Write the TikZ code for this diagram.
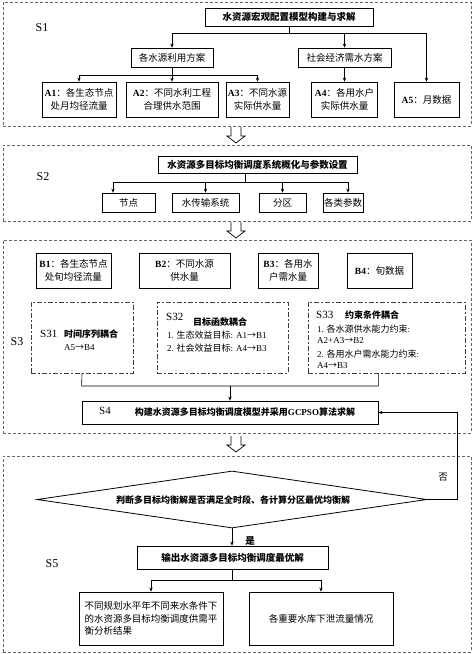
\documentclass[tikz,border=0pt]{standalone}
\usepackage{fontspec}
\setmainfont{Liberation Serif}
\newfontfamily\zhfont{Noto Sans CJK SC}
\usetikzlibrary{arrows.meta,shapes.geometric,calc}
\newcommand\lat[1]{{\rmfamily #1}}
\tikzset{
 frame/.style={draw=black!60, dash pattern=on 3pt off 2pt, line width=0.8pt, inner sep=0pt},
 box/.style={draw, line width=0.8pt, align=center, inner sep=1pt, font=\zhfont\fontsize{9.5}{13}\selectfont},
 subframe/.style={draw=black!75, line width=0.8pt, dash pattern=on 5pt off 2pt on 2pt off 2pt, inner sep=0pt},
 arr/.style={-{Stealth[length=4pt,width=3.4pt]}, line width=0.6pt},
 ln/.style={line width=0.6pt},
 slab/.style={font=\fontsize{12}{12}\selectfont, inner sep=0pt},
 txt/.style={font=\zhfont\fontsize{9}{11}\selectfont, inner sep=0pt, anchor=west},
 hollowarrow/.pic={\draw[line width=0.7pt, fill=white] (-5,0) -- (-5,9) -- (-9,9) -- (0,16) -- (9,9) -- (5,9) -- (5,0);},
}
\begin{document}
\begin{tikzpicture}[x=1pt,y=-1pt]
\useasboundingbox (0,0) rectangle (474,654);
% ---------- frames
\node[frame, minimum width=468, minimum height=124] (F1) at (237,64) {};
\node[frame, minimum width=468, minimum height=76] (F2) at (237,183) {};
\node[frame, minimum width=468, minimum height=193] (F3) at (237,336.5) {};
\node[frame, minimum width=468, minimum height=196] (F5) at (237,554) {};
\pic at (236,127) {hollowarrow};
\pic at (236,222) {hollowarrow};
\pic at (236,436) {hollowarrow};
% ---------- S1
\node[slab] (s1) at (42,28) {S1};
\node[box, minimum width=168, minimum height=18] (t1) at (289,17) {\bfseries 水资源宏观配置模型构建与求解};
\node[box, minimum width=82, minimum height=19] (b11) at (172,57.5) {各水源利用方案};
\node[box, minimum width=93, minimum height=19] (b12) at (344.5,57.5) {社会经济需水方案};
\node[box, minimum width=74, minimum height=35] (A1) at (79,99.5) {\lat{\bfseries A1}：各生态节点\\处月均径流量};
\node[box, minimum width=92, minimum height=35] (A2) at (172,99.5) {\lat{\bfseries A2}：不同水利工程\\合理供水范围};
\node[box, minimum width=63, minimum height=35] (A3) at (257.5,99.5) {\lat{\bfseries A3}：不同水源\\实际供水量};
\node[box, minimum width=66, minimum height=35] (A4) at (344.5,99.5) {\lat{\bfseries A4}：各用水户\\实际供水量};
\node[box, minimum width=65, minimum height=35] (A5) at (426.5,99.5) {\lat{\bfseries A5}：月数据};
\coordinate (j1) at (t1.south |- 0,33);
\draw[ln] (t1.south) -- (j1);
\draw[arr] (j1) -| (b11.north);
\draw[arr] (j1) -| (b12.north);
\draw[arr] (j1) -| (A5.north);
\coordinate (j2) at (b11.south |- 0,75);
\draw[ln] (b11.south) -- (j2);
\draw[arr] (j2) -| (A1.north);
\draw[arr] (j2) -- (A2.north);
\draw[arr] (j2) -| (A3.north);
\draw[arr] (b12.south) -- (A4.north);
% ---------- S2
\node[slab] (s2) at (43,177) {S2};
\node[box, minimum width=199, minimum height=17] (t2) at (257.5,164.5) {\bfseries 水资源多目标均衡调度系统概化与参数设置};
\node[box, minimum width=53, minimum height=19] (n1) at (128.5,202.5) {节点};
\node[box, minimum width=67, minimum height=19] (n2) at (205.5,202.5) {水传输系统};
\node[box, minimum width=47, minimum height=19] (n3) at (282.5,202.5) {分区};
\node[box, minimum width=40, minimum height=19] (n4) at (343,202.5) {各类参数};
\coordinate (j3) at (245,173);
\coordinate (j4) at (245,182);
\draw[ln] (j3) -- (j4);
\draw[arr] (j4) -| ([xshift=-15.5pt]n1.north);
\draw[arr] (j4) -| (n2.north);
\draw[arr] (j4) -| (n3.north);
\draw[arr] (j4) -| ([xshift=5pt]n4.north);
% ---------- S3
\node[slab] (s3) at (17,342) {S3};
\node[box, minimum width=75, minimum height=35] (B1) at (73.5,270.5) {\lat{\bfseries B1}：各生态节点\\处旬均径流量};
\node[box, minimum width=91, minimum height=35] (B2) at (184.5,270.5) {\lat{\bfseries B2}：不同水源\\供水量};
\node[box, minimum width=60, minimum height=35] (B3) at (288,270.5) {\lat{\bfseries B3}：各用水\\户需水量};
\node[box, minimum width=65, minimum height=35] (B4) at (379.5,270.5) {\lat{\bfseries B4}：旬数据};
\node[subframe, minimum width=102, minimum height=71] (S31) at (82,337.5) {};
\node[subframe, minimum width=131, minimum height=71] (S32) at (222.5,337.5) {};
\node[subframe, minimum width=157, minimum height=71] (S33) at (386.5,337.5) {};
\node[anchor=west, inner sep=0pt, font=\fontsize{11}{11}\selectfont] (l31) at (40,334) {S31};
\node[txt] (t31) at (64,334) {\bfseries 时间序列耦合};
\node[txt] (u31) at (64,348) {\lat{A5}→\lat{B4}};
\node[anchor=west, inner sep=0pt, font=\fontsize{11}{11}\selectfont] (l32) at (166,317) {S32};
\node[txt] (t32) at (193,322) {\bfseries 目标函数耦合};
\node[txt] (u32) at (167,335) {\lat{1.} 生态效益目标\lat{: A1}→\lat{B1}};
\node[txt] (v32) at (167,348) {\lat{2.} 社会效益目标\lat{: A4}→\lat{B3}};
\node[anchor=west, inner sep=0pt, font=\fontsize{11}{11}\selectfont] (l33) at (316,315) {S33};
\node[txt] (t33) at (345,315) {\bfseries 约束条件耦合};
\node[txt] (u33) at (317,329) {\lat{1.} 各水源供水能力约束\lat{:}};
\node[txt] (v33) at (317,341) {\lat{A2+A3}→\lat{B2}};
\node[txt] (w33) at (317,354) {\lat{2.} 各用水户需水能力约束\lat{:}};
\node[txt] (x33) at (317,366) {\lat{A4}→\lat{B3}};
% ---------- S4
\node[box, minimum width=296, minimum height=23] (S4) at (230,412.5) {};
\node[anchor=center, inner sep=0pt, font=\fontsize{11}{11}\selectfont] (l4) at (105,411) {S4};
\node[inner sep=0pt, font=\zhfont\bfseries\fontsize{9}{11}\selectfont] (t4) at (245,412.5) {构建水资源多目标均衡调度模型并采用\lat{GCPSO}算法求解};
\coordinate (hl) at (S4.north west |- 0,386);
\coordinate (hr) at (S4.north east |- 0,386);
\draw[ln] (S31.south) -- (hl) -- (hr) -- (hr |- S33.south);
\draw[arr] (S4.north |- hl) -- (S4.north);
% ---------- S5
\node[slab] (s5) at (52,564) {S5};
\node[draw, diamond, line width=0.8pt, minimum width=390, minimum height=57, aspect=6.84, inner sep=0pt] (dia) at (232,499.5) {};
\node[inner sep=0pt, font=\zhfont\bfseries\fontsize{9}{11}\selectfont] (dt) at (233,500) {判断多目标均衡解是否满足全时段、各计算分区最优均衡解};
\node[box, minimum width=191, minimum height=23] (out) at (232.5,557.5) {\bfseries 输出水资源多目标均衡调度最优解};
\node[box, minimum width=144, minimum height=53, align=left, font=\zhfont\fontsize{9.5}{12.5}\selectfont] (r1) at (151,618.5) {不同规划水平年不同来水条件下\\的水资源多目标均衡调度供需平\\衡分析结果};
\node[box, minimum width=144, minimum height=53] (r2) at (321,618.5) {各重要水库下泄流量情况};
\node[inner sep=0pt, font=\zhfont\fontsize{9.5}{11}\selectfont] (no) at (443,477) {否};
\node[inner sep=0pt, font=\zhfont\bfseries\fontsize{9.5}{11}\selectfont] (yes) at (250,541) {是};
\coordinate (fb) at (457,412.5);
\draw[arr] (dia.east) -| (fb) -- (S4.east);
\draw[arr] (dia.south) -- (out.north -| dia.south);
\coordinate (j5) at (out.south |- 0,580);
\draw[ln] (out.south) -- (j5);
\draw[arr] (j5) -| (r1.north);
\draw[arr] (j5) -| (r2.north);
\end{tikzpicture}
\end{document}
